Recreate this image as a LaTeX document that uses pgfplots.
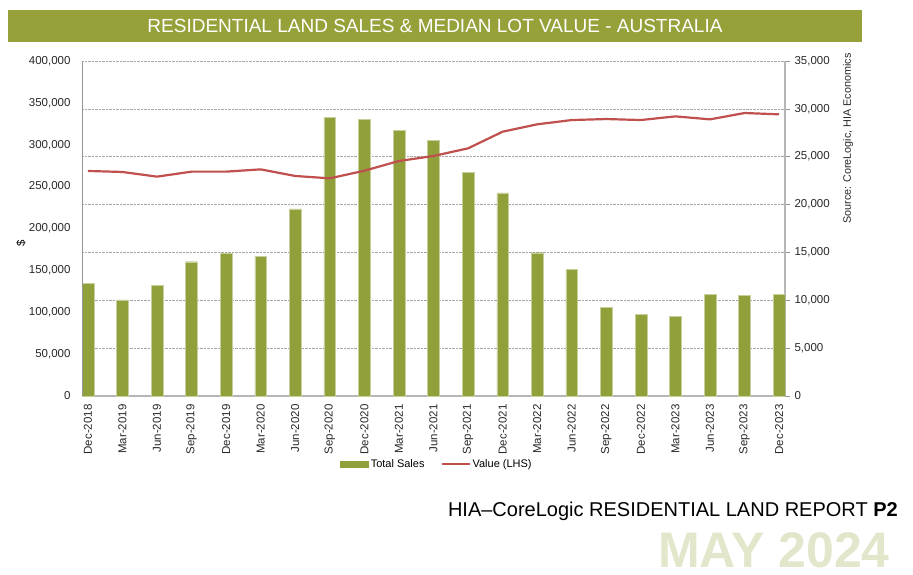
\documentclass[border=0pt]{standalone}
\usepackage{pgfplots}
\usepackage{pgfplotstable}
\pgfplotsset{compat=1.18}
\usepackage{fontspec}
\setmainfont{Liberation Sans}

\definecolor{barolive}{RGB}{145,160,58}
\definecolor{banner}{RGB}{150,161,57}
\definecolor{linered}{RGB}{192,80,77}
\definecolor{paleolive}{RGB}{226,230,203}
\definecolor{axisgray}{RGB}{150,150,150}
\definecolor{ticktext}{RGB}{40,40,40}

% quarterly land sales (RHS) and median lot value (LHS)
\pgfplotstableread{
idx sales value
0 11780 268700
1 10030 267500
2 11530 261900
3 14030 267900
4 14940 267900
5 14600 270600
6 19540 262700
7 29080 259900
8 28940 269000
9 27720 280600
10 26710 286600
11 23330 295700
12 21210 315600
13 14970 324400
14 13240 329500
15 9230 330700
16 8500 329500
17 8290 333900
18 10620 330300
19 10480 337900
20 10590 336300
}\landdata

\pgfplotsset{
  common/.style={
    at={(82pt,178pt)}, anchor=south west,
    scale only axis, width=703pt, height=335pt,
    xmin=-0.17, xmax=20.17, ymin=0,
    scaled y ticks=false,
    /pgf/number format/.cd, fixed, 1000 sep={,}, assume math mode=true, /pgfplots/.cd,
    tick label style={font=\fontsize{11.5}{13}\selectfont, text=ticktext},
    axis line style={axisgray, line width=0.8pt},
  }
}

\begin{document}
\begin{tikzpicture}[x=1pt,y=1pt]
\path[use as bounding box] (0,0) rectangle (913,574);

% title banner
\fill[banner] (8,532) rectangle (862,564);
\node[white, font=\fontsize{19}{22}\selectfont] at (435,548)
  {RESIDENTIAL LAND SALES \& MEDIAN LOT VALUE - AUSTRALIA};

% sales bars on the right-hand scale
\begin{axis}[common,
  ymax=35000,
  ytick={0,5000,...,35000},
  axis y line*=right, axis x line*=bottom,
  ymajorgrids, major grid style={densely dotted, gray!70, line width=0.6pt},
  ytick style={axisgray, line width=0.6pt}, major tick length=5pt, tick align=outside,
  xtick={0,...,20},
  xtick style={draw=none},
  xticklabels={Dec-2018,Mar-2019,Jun-2019,Sep-2019,Dec-2019,Mar-2020,Jun-2020,Sep-2020,Dec-2020,Mar-2021,Jun-2021,Sep-2021,Dec-2021,Mar-2022,Jun-2022,Sep-2022,Dec-2022,Mar-2023,Jun-2023,Sep-2023,Dec-2023},
  x tick label style={rotate=90, anchor=east},
  yticklabel style={anchor=west, xshift=1pt},
  axis line style={axisgray!70, line width=1.4pt},
]
\addplot[ybar, bar width=0.34, fill=barolive, draw=barolive!50!white, line width=0.4pt]
  table[x=idx, y=sales] {\landdata};
\end{axis}

% median lot value on the left-hand scale
\begin{axis}[common,
  ymax=400000,
  ytick={0,50000,...,400000},
  axis y line*=left, axis x line=none,
  major tick length=0pt,
  yticklabel style={anchor=east, xshift=-8pt},
  ylabel={\$}, ylabel style={font=\fontsize{11.5}{13}\selectfont, at={(-0.075,0.455)}},
  legend style={at={(0.505,-0.203)}, anchor=center, draw=none, fill=none,
    font=\fontsize{11}{13}\selectfont, legend columns=2,
    /tikz/every even column/.append style={column sep=14pt},
    inner sep=0pt},
]
\addlegendimage{legend image code/.code={\fill[barolive] (0pt,-3pt) rectangle (28pt,3pt);}}
\addlegendentry{Total Sales}
\addplot[linered, line width=2.2pt, line join=round,
  legend image code/.code={\draw[linered, line width=2pt] (0pt,0pt) -- (28pt,0pt);}]
  table[x=idx, y=value] {\landdata};
\addlegendentry{Value (LHS)}
\end{axis}

\node[rotate=90, anchor=east, font=\fontsize{10.8}{12}\selectfont, text=ticktext] at (848,524)
  {Source: CoreLogic, HIA Economics};

% footer
\node[anchor=base east, font=\fontsize{20}{23}\selectfont, inner sep=0pt] at (898,58)
  {HIA–CoreLogic RESIDENTIAL LAND REPORT \textbf{P2}};
\node[anchor=base east, font=\fontsize{50}{55}\bfseries, text=paleolive, inner sep=0pt] at (890,7)
  {MAY 2024};
\end{tikzpicture}
\end{document}
